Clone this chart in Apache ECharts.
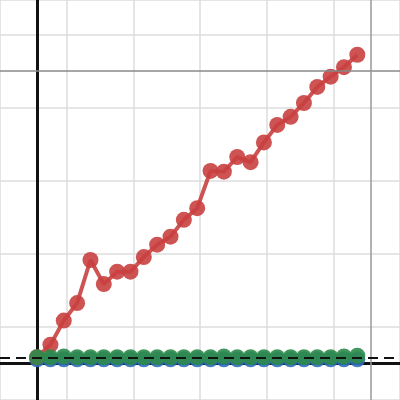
<!DOCTYPE html>
<html>
<head>
<meta charset="utf-8">
<script src="https://cdn.jsdelivr.net/npm/echarts@6/dist/echarts.min.js"></script>
<style>html,body{margin:0;padding:0;background:#fff}#chart{width:400px;height:400px}</style>
</head>
<body>
<div id="chart"></div>
<script>
var xs = [0,1,2,3,4,5,6,7,8,9,10,11,12,13,14,15,16,17,18,19,20,21,22,23,24];
var redVals = [0.8,2.5,5.8,8.2,14.1,10.8,12.5,12.5,14.5,16.2,17.3,19.6,21.2,26.3,26.2,28.2,27.5,30.2,32.6,33.7,35.6,37.8,39.2,40.5,42.2];
var blueVals = [0.5,0.5,0.5,0.5,0.5,0.5,0.5,0.5,0.5,0.5,0.5,0.5,0.5,0.5,0.5,0.5,0.5,0.5,0.5,0.5,0.5,0.5,0.5,0.5,0.5];
var greenVals = [0.8,0.8,0.9,0.8,0.8,0.8,0.8,0.8,0.8,0.8,0.8,0.8,0.8,0.8,0.9,0.8,0.8,0.8,0.8,0.8,0.8,0.8,0.8,0.9,1.0];

function pairs(v){ return xs.map(function(x,i){ return [x, v[i]]; }); }

var chart = echarts.init(document.getElementById('chart'));
function line(color, vals, extra){
  var s = {
    type:'line', data: pairs(vals), symbol:'circle', symbolSize:16,
    lineStyle:{color:color, width:4, opacity:0.9},
    itemStyle:{color:color, opacity:0.9},
    animation:false
  };
  for (var k in extra) s[k] = extra[k];
  return s;
}
chart.setOption({
  grid:{left:0,right:0,top:0,bottom:0},
  xAxis:{
    type:'value', min:-2.78, max:27.2, interval:5,
    axisLine:{show:true, onZero:true, lineStyle:{color:'#111', width:3}},
    axisTick:{show:false}, axisLabel:{show:false},
    splitLine:{lineStyle:{color:'#ddd', width:1.5}}
  },
  yAxis:{
    type:'value', min:-5.07, max:49.7, interval:10,
    axisLine:{show:true, onZero:true, lineStyle:{color:'#111', width:3}},
    axisTick:{show:false}, axisLabel:{show:false},
    splitLine:{lineStyle:{color:'#ddd', width:1.5}}
  },
  series:[
    line('#2f6fb8', blueVals, {}),
    line('#c94040', redVals, {}),
    line('#2e8b4a', greenVals, {
      markLine:{
        silent:true, symbol:'none', label:{show:false}, animation:false,
        data:[
          {yAxis:40, lineStyle:{color:'#888', type:'solid', width:1.5}},
          {xAxis:25, lineStyle:{color:'#999', type:'solid', width:1.5}},
          {yAxis:0.7, lineStyle:{color:'#111', type:[10,6], width:2}}
        ]
      }
    })
  ]
});
</script>
</body>
</html>
